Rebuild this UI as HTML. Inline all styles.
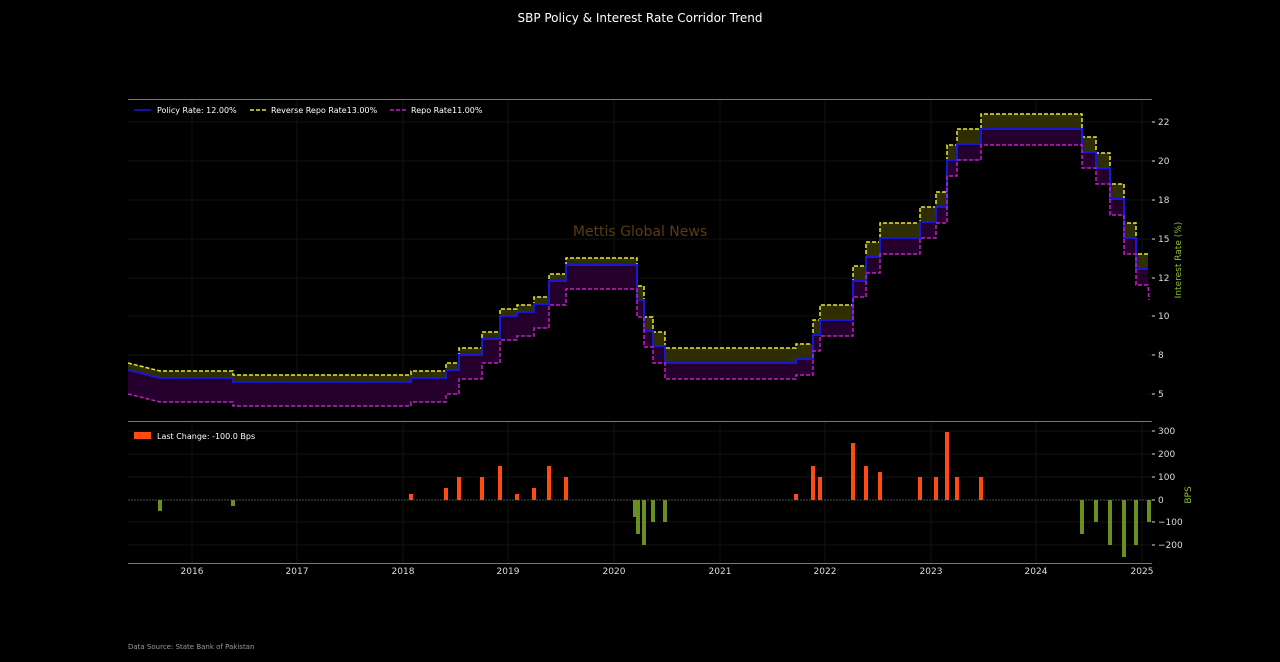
<!DOCTYPE html>
<html><head><meta charset="utf-8"><style>
html,body{margin:0;padding:0;background:#000;width:1280px;height:662px;overflow:hidden}
text{font-family:"DejaVu Sans","Liberation Sans",sans-serif}
</style></head><body>
<svg width="1280" height="662" viewBox="0 0 1280 662" xmlns="http://www.w3.org/2000/svg">
<rect width="1280" height="662" fill="#000"/>
<text x="640" y="22" fill="#fff" font-size="12" text-anchor="middle">SBP Policy &amp; Interest Rate Corridor Trend</text>
<defs><clipPath id="c1"><rect x="128" y="99" width="1024" height="322"/></clipPath></defs>
<g stroke="#121212" stroke-width="1">
<line x1="128" x2="1152" y1="122" y2="122"/><line x1="128" x2="1152" y1="161" y2="161"/><line x1="128" x2="1152" y1="200" y2="200"/><line x1="128" x2="1152" y1="239" y2="239"/><line x1="128" x2="1152" y1="278" y2="278"/><line x1="128" x2="1152" y1="316" y2="316"/><line x1="128" x2="1152" y1="355" y2="355"/><line x1="128" x2="1152" y1="394" y2="394"/>
<line x1="128" x2="1152" y1="431" y2="431"/><line x1="128" x2="1152" y1="454" y2="454"/><line x1="128" x2="1152" y1="477" y2="477"/><line x1="128" x2="1152" y1="522" y2="522"/><line x1="128" x2="1152" y1="545" y2="545"/>
<line x1="192" x2="192" y1="99" y2="563"/><line x1="297" x2="297" y1="99" y2="563"/><line x1="403" x2="403" y1="99" y2="563"/><line x1="508" x2="508" y1="99" y2="563"/><line x1="614" x2="614" y1="99" y2="563"/><line x1="720" x2="720" y1="99" y2="563"/><line x1="825" x2="825" y1="99" y2="563"/><line x1="931" x2="931" y1="99" y2="563"/><line x1="1036" x2="1036" y1="99" y2="563"/><line x1="1142" x2="1142" y1="99" y2="563"/>
</g>
<g clip-path="url(#c1)">
<path fill="#2e2e02" d="M128,363 L160,371 H233 V375 H411 V371 H446 V363 H459 V348 H482 V332 H500 V309 H517 V305 H534 V297 H549 V274 H566 V258 H637 V286 H644 V317 H653 V332 H665 V348 H796 V344 H813 V320 H820 V305 H853 V266 H866 V242 H880 V223 H920 V207 H936 V192 H947 V145 H957 V129 H981 V114 H1082 V137 H1096 V153 H1110 V184 H1124 V223 H1136 V254 H1148 V421 H128Z"/>
<path fill="#26002c" d="M128,370 L160,378 H233 V382 H411 V378 H446 V370 H459 V355 H482 V339 H500 V316 H517 V312 H534 V304 H549 V281 H566 V265 H637 V300 H644 V331 H653 V346 H665 V363 H796 V359 H813 V335 H820 V320 H853 V281 H866 V257 H880 V238 H920 V222 H936 V207 H947 V160 H957 V144 H981 V129 H1082 V152 H1096 V168 H1110 V199 H1124 V238 H1136 V269 H1148 V421 H128Z"/>
<path fill="#000" d="M128,394 L160,402 H233 V406 H411 V402 H446 V394 H459 V379 H482 V363 H500 V340 H517 V336 H534 V328 H549 V305 H566 V289 H637 V317 H644 V347 H653 V363 H665 V379 H796 V375 H813 V351 H820 V336 H853 V297 H866 V273 H880 V254 H920 V238 H936 V223 H947 V176 H957 V160 H981 V145 H1082 V168 H1096 V184 H1110 V215 H1124 V254 H1136 V285 H1148 V421 H128Z"/>
<path fill="none" stroke="#e8e832" stroke-width="1.5" stroke-dasharray="4,2" d="M128,363 L160,371 H233 V375 H411 V371 H446 V363 H459 V348 H482 V332 H500 V309 H517 V305 H534 V297 H549 V274 H566 V258 H637 V286 H644 V317 H653 V332 H665 V348 H796 V344 H813 V320 H820 V305 H853 V266 H866 V242 H880 V223 H920 V207 H936 V192 H947 V145 H957 V129 H981 V114 H1082 V137 H1096 V153 H1110 V184 H1124 V223 H1136 V254 H1148"/>
<path fill="none" stroke="#1818d0" stroke-width="2" d="M128,370 L160,378 H233 V382 H411 V378 H446 V370 H459 V355 H482 V339 H500 V316 H517 V312 H534 V304 H549 V281 H566 V265 H637 V300 H644 V331 H653 V346 H665 V363 H796 V359 H813 V335 H820 V320 H853 V281 H866 V257 H880 V238 H920 V222 H936 V207 H947 V160 H957 V144 H981 V129 H1082 V152 H1096 V168 H1110 V199 H1124 V238 H1136 V269 H1148"/>
<path fill="none" stroke="#c020c0" stroke-width="1.5" stroke-dasharray="4,2" d="M128,394 L160,402 H233 V406 H411 V402 H446 V394 H459 V379 H482 V363 H500 V340 H517 V336 H534 V328 H549 V305 H566 V289 H637 V317 H644 V347 H653 V363 H665 V379 H796 V375 H813 V351 H820 V336 H853 V297 H866 V273 H880 V254 H920 V238 H936 V223 H947 V176 H957 V160 H981 V145 H1082 V168 H1096 V184 H1110 V215 H1124 V254 H1136 V285 H1148 L1149,300"/>
</g>
<text x="640" y="236" fill="#5c3c12" font-size="14" text-anchor="middle">Mettis Global News</text>
<line x1="128" x2="1152" y1="99.5" y2="99.5" stroke="#777"/>
<line x1="128" x2="1152" y1="421.5" y2="421.5" stroke="#777"/>
<line x1="128" x2="1152" y1="563.5" y2="563.5" stroke="#777"/>
<line x1="134" x2="151" y1="110" y2="110" stroke="#1818d0" stroke-width="1.5"/>
<text x="157" y="113" fill="#fff" font-size="8">Policy Rate: 12.00%</text>
<line x1="250" x2="266" y1="110" y2="110" stroke="#e8e832" stroke-width="1.5" stroke-dasharray="4,2"/>
<text x="271" y="113" fill="#fff" font-size="8">Reverse Repo Rate13.00%</text>
<line x1="390" x2="406" y1="110" y2="110" stroke="#c020c0" stroke-width="1.5" stroke-dasharray="4,2"/>
<text x="411" y="113" fill="#fff" font-size="8">Repo Rate11.00%</text>
<g fill="#ddd" font-size="9">
<text x="1158" y="125">22</text><text x="1158" y="164">20</text><text x="1158" y="203">18</text><text x="1158" y="242">15</text><text x="1158" y="281">12</text><text x="1158" y="319">10</text><text x="1158" y="358">8</text><text x="1158" y="397">5</text>
<text x="1158" y="434">300</text><text x="1158" y="457">200</text><text x="1158" y="480">100</text><text x="1158" y="503">0</text><text x="1158" y="525">−100</text><text x="1158" y="548">−200</text>
</g>
<g stroke="#ddd"><line x1="1152" x2="1155" y1="122" y2="122"/><line x1="1152" x2="1155" y1="161" y2="161"/><line x1="1152" x2="1155" y1="200" y2="200"/><line x1="1152" x2="1155" y1="239" y2="239"/><line x1="1152" x2="1155" y1="278" y2="278"/><line x1="1152" x2="1155" y1="316" y2="316"/><line x1="1152" x2="1155" y1="355" y2="355"/><line x1="1152" x2="1155" y1="394" y2="394"/>
<line x1="1152" x2="1155" y1="431" y2="431"/><line x1="1152" x2="1155" y1="454" y2="454"/><line x1="1152" x2="1155" y1="477" y2="477"/><line x1="1152" x2="1155" y1="500" y2="500"/><line x1="1152" x2="1155" y1="522" y2="522"/><line x1="1152" x2="1155" y1="545" y2="545"/></g>
<text transform="translate(1181,260) rotate(-90)" fill="#8fbf30" font-size="9" text-anchor="middle">Interest Rate (%)</text>
<text transform="translate(1191,495) rotate(-90)" fill="#8fbf30" font-size="9" text-anchor="middle">BPS</text>
<line x1="128" x2="1152" y1="500" y2="500" stroke="#666" stroke-width="0.8" stroke-dasharray="2,1"/>
<rect x="134" y="432" width="17" height="7" fill="#ff4a12"/>
<text x="157" y="439" fill="#fff" font-size="8">Last Change: -100.0 Bps</text>
<g fill="#ff4a12">
<rect x="409" y="494" width="4" height="6"/><rect x="444" y="488" width="4" height="12"/><rect x="457" y="477" width="4" height="23"/><rect x="480" y="477" width="4" height="23"/><rect x="498" y="466" width="4" height="34"/><rect x="515" y="494" width="4" height="6"/><rect x="532" y="488" width="4" height="12"/><rect x="547" y="466" width="4" height="34"/><rect x="564" y="477" width="4" height="23"/>
<rect x="794" y="494" width="4" height="6"/><rect x="811" y="466" width="4" height="34"/><rect x="818" y="477" width="4" height="23"/><rect x="851" y="443" width="4" height="57"/><rect x="864" y="466" width="4" height="34"/><rect x="878" y="472" width="4" height="28"/><rect x="918" y="477" width="4" height="23"/><rect x="934" y="477" width="4" height="23"/><rect x="945" y="432" width="4" height="68"/><rect x="955" y="477" width="4" height="23"/><rect x="979" y="477" width="4" height="23"/>
</g>
<g fill="#6b8e23">
<rect x="158" y="500" width="4" height="11"/><rect x="231" y="500" width="4" height="6"/>
<rect x="633" y="500" width="4" height="17"/><rect x="636" y="500" width="4" height="34"/><rect x="642" y="500" width="4" height="45"/><rect x="651" y="500" width="4" height="22"/><rect x="663" y="500" width="4" height="22"/>
<rect x="1080" y="500" width="4" height="34"/><rect x="1094" y="500" width="4" height="22"/><rect x="1108" y="500" width="4" height="45"/><rect x="1122" y="500" width="4" height="57"/><rect x="1134" y="500" width="4" height="45"/><rect x="1147" y="500" width="4" height="22"/>
</g>
<g fill="#ddd" font-size="9" text-anchor="middle">
<text x="192" y="574">2016</text><text x="297" y="574">2017</text><text x="403" y="574">2018</text><text x="508" y="574">2019</text><text x="614" y="574">2020</text><text x="720" y="574">2021</text><text x="825" y="574">2022</text><text x="931" y="574">2023</text><text x="1036" y="574">2024</text><text x="1142" y="574">2025</text>
</g>
<text x="128" y="649" fill="#999" font-size="7">Data Source: State Bank of Pakistan</text>
</svg>
</body></html>
